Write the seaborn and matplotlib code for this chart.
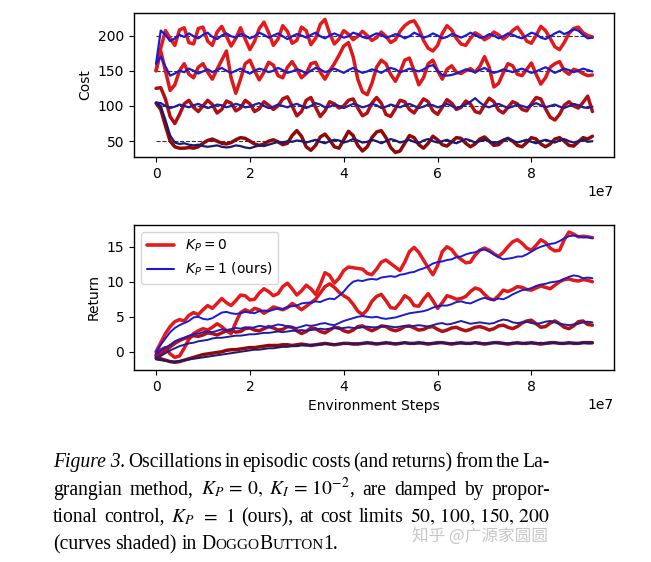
import numpy as np
import matplotlib
matplotlib.use("Agg")
import matplotlib.pyplot as plt
from matplotlib.lines import Line2D
import seaborn as sns

# environment steps, one sample every 1e6 steps
steps = np.arange(94) * 1e6
cost_limits = [200, 150, 100, 50]

# episodic cost, K_P = 0 (Lagrangian)
cost_kp0_200 = [150, 182, 207, 196, 186, 208, 211, 190, 188, 210,
                212, 192, 186, 205, 213, 199, 185, 196, 211, 195,
                180, 192, 210, 219, 204, 186, 195, 214, 206, 189,
                193, 212, 207, 187, 196, 216, 223, 203, 188, 195,
                207, 202, 194, 199, 206, 200, 193, 197, 205, 199,
                190, 194, 206, 214, 219, 221, 210, 193, 182, 178,
                186, 203, 214, 208, 196, 188, 186, 196, 204, 200,
                194, 198, 205, 201, 195, 200, 207, 212, 203, 192,
                189, 200, 213, 207, 196, 184, 180, 190, 203, 210,
                212, 204, 200, 198]
cost_kp0_150 = [150, 178, 150, 122, 130, 150, 160, 145, 140, 155,
                160, 148, 138, 152, 165, 178, 140, 118, 138, 160,
                165, 150, 137, 148, 162, 158, 143, 140, 155, 163,
                152, 140, 146, 160, 162, 148, 138, 150, 160, 172,
                185, 190, 170, 138, 120, 116, 132, 155, 165, 160,
                145, 135, 148, 165, 168, 150, 130, 140, 160, 165,
                150, 138, 152, 157, 148, 146, 150, 153, 148, 156,
                170, 155, 127, 132, 147, 160, 157, 145, 143, 152,
                161, 145, 131, 140, 155, 160, 163, 150, 145, 152,
                150, 146, 143, 144]
cost_kp0_100 = [125, 126, 110, 85, 75, 88, 103, 108, 98, 92,
                100, 108, 102, 90, 95, 107, 104, 93, 97, 108,
                103, 92, 96, 106, 101, 95, 100, 110, 113, 100,
                86, 92, 108, 112, 98, 85, 93, 106, 103, 97,
                100, 108, 110, 97, 86, 90, 104, 112, 104, 88,
                85, 96, 108, 106, 95, 90, 100, 110, 106, 93,
                88, 98, 109, 104, 95, 98, 107, 103, 92, 90,
                101, 111, 106, 94, 90, 98, 106, 103, 95, 93,
                103, 112, 110, 96, 84, 80, 88, 101, 106, 100,
                97, 105, 114, 92]
cost_kp0_50 = [104, 95, 72, 50, 42, 40, 40, 41, 40, 42,
               47, 51, 53, 50, 47, 46, 48, 52, 55, 54,
               50, 46, 44, 46, 50, 52, 49, 45, 47, 58,
               65, 57, 42, 37, 44, 56, 60, 52, 42, 40,
               52, 64, 58, 44, 36, 42, 55, 63, 65, 55,
               41, 34, 36, 47, 58, 55, 45, 40, 47, 57,
               52, 45, 43, 49, 55, 54, 47, 42, 46, 53,
               56, 50, 44, 45, 51, 54, 50, 44, 42, 48,
               55, 53, 46, 42, 46, 53, 55, 50, 44, 43,
               49, 55, 53, 57]

# episodic cost, K_P = 1 (ours)
cost_kp1_200 = [160, 207, 201, 192, 196, 201, 198, 203, 199, 196,
                201, 204, 198, 195, 200, 203, 199, 197, 202, 200,
                196, 199, 204, 201, 197, 200, 203, 199, 195, 199,
                202, 200, 197, 201, 204, 199, 196, 200, 203, 200,
                197, 199, 204, 202, 198, 196, 200, 203, 201, 197,
                199, 202, 200, 196, 199, 204, 201, 197, 199, 203,
                200, 196, 198, 202, 200, 197, 200, 204, 201, 197,
                198, 202, 200, 196, 199, 203, 201, 198, 196, 200,
                204, 202, 197, 195, 199, 203, 206, 202, 205, 209,
                207, 201, 196, 197]
cost_kp1_150 = [160, 170, 156, 143, 146, 150, 148, 153, 150, 146,
                149, 152, 148, 151, 154, 150, 147, 150, 153, 149,
                146, 150, 153, 151, 148, 150, 154, 151, 147, 149,
                152, 150, 146, 150, 154, 152, 148, 150, 153, 150,
                147, 151, 154, 150, 147, 149, 152, 150, 147, 151,
                154, 152, 148, 150, 153, 151, 149, 152, 156, 158,
                150, 144, 143, 144, 146, 149, 152, 150, 148, 151,
                154, 150, 147, 149, 152, 150, 148, 151, 153, 150,
                147, 149, 152, 155, 151, 147, 150, 153, 151, 148,
                150, 153, 151, 149]
cost_kp1_100 = [105, 104, 100, 97, 99, 102, 100, 98, 101, 103,
                100, 97, 99, 102, 101, 98, 100, 103, 101, 98,
                99, 102, 104, 100, 97, 99, 102, 100, 98, 101,
                103, 100, 97, 100, 104, 102, 98, 99, 102, 100,
                97, 100, 103, 101, 98, 100, 103, 101, 97, 99,
                102, 100, 98, 101, 103, 100, 97, 99, 102, 101,
                98, 100, 103, 100, 97, 99, 102, 106, 111, 105,
                100, 98, 101, 103, 100, 97, 99, 102, 100, 98,
                101, 104, 101, 98, 100, 102, 99, 97, 100, 103,
                101, 98, 97, 99]
cost_kp1_50 = [104, 100, 80, 58, 48, 46, 47, 45, 44, 45,
               43, 42, 43, 44, 42, 41, 42, 44, 43, 41,
               40, 42, 44, 43, 45, 47, 49, 48, 50, 49,
               51, 50, 48, 50, 52, 49, 47, 50, 52, 51,
               48, 50, 53, 51, 48, 49, 52, 50, 47, 50,
               53, 51, 48, 50, 52, 49, 47, 51, 53, 50,
               48, 50, 52, 49, 47, 50, 53, 51, 48, 50,
               52, 50, 47, 49, 52, 54, 51, 48, 50, 52,
               49, 47, 50, 52, 50, 48, 51, 53, 50, 48,
               50, 52, 49, 50]

# episodic return, K_P = 0
ret_kp0_200 = [0.0, 1.3, 2.6, 3.6, 4.3, 4.6, 4.4, 5.2, 5.6, 5.3,
               6.0, 6.6, 6.2, 6.9, 7.6, 7.0, 6.6, 7.3, 8.1, 8.0,
               7.4, 7.5, 8.4, 9.0, 8.6, 8.0, 8.3, 9.3, 9.8, 9.0,
               8.1, 8.7, 9.5, 9.0, 8.2, 9.6, 11.3, 10.9, 9.8, 10.5,
               11.6, 12.1, 12.0, 11.9, 11.8, 11.2, 11.0, 11.8, 12.8, 13.1,
               12.6, 12.1, 11.6, 12.8, 14.3, 14.9, 14.2, 13.1, 12.0, 11.0,
               12.3, 14.3, 15.0, 14.6, 13.7, 13.2, 12.7, 12.8, 13.8, 14.5,
               14.8, 14.5, 14.0, 13.6, 14.2, 15.0, 15.7, 16.0, 15.5, 14.8,
               14.5, 15.2, 16.0, 15.6, 14.8, 14.4, 14.5, 16.0, 17.1, 16.8,
               16.4, 16.5, 16.4, 16.3]
ret_kp0_150 = [-0.4, 0.3, 0.6, -0.3, -0.8, -0.6, 0.5, 1.8, 2.6, 3.0,
               3.3, 3.1, 3.5, 4.0, 3.6, 3.0, 2.6, 4.2, 5.6, 6.0,
               5.7, 6.2, 6.0, 5.5, 5.9, 6.4, 6.2, 6.0, 6.3, 6.9,
               6.5, 6.0, 6.5, 7.0, 7.5, 8.4, 9.3, 9.7, 9.2, 8.5,
               8.0, 7.6, 6.8, 5.8, 5.3, 6.0, 7.2, 7.9, 8.2, 7.3,
               6.3, 6.2, 7.0, 8.0, 7.6, 6.6, 6.5, 7.5, 8.3, 7.3,
               6.2, 7.0, 8.0, 7.8, 7.5, 7.6, 7.9, 8.6, 9.1, 8.9,
               8.2, 7.6, 7.4, 8.0, 8.8, 8.6, 8.9, 9.3, 9.2, 8.9,
               8.8, 9.1, 9.4, 9.2, 9.0, 9.5, 10.0, 10.3, 10.4, 10.2,
               10.1, 10.3, 10.2, 10.0]
ret_kp0_100 = [-0.6, -0.3, 0.2, 0.7, 1.2, 1.6, 1.9, 2.1, 2.3, 2.2,
               2.4, 2.7, 2.6, 2.4, 2.7, 3.0, 3.1, 2.8, 2.9, 3.3,
               3.4, 3.1, 3.0, 3.3, 3.6, 3.4, 3.1, 3.2, 3.6, 3.5,
               3.0, 2.6, 2.9, 3.4, 3.3, 2.9, 2.7, 3.1, 3.5, 3.4,
               3.0, 2.8, 3.1, 3.6, 3.7, 3.3, 3.0, 3.3, 3.7, 3.6,
               3.2, 3.0, 3.2, 3.6, 3.7, 3.4, 3.1, 3.2, 3.5, 3.6,
               3.2, 2.9, 3.1, 3.4, 3.5, 3.2, 3.0, 3.2, 3.5, 3.6,
               3.4, 3.1, 3.3, 3.7, 3.8, 3.5, 3.3, 3.6, 4.1, 4.4,
               4.5, 4.0, 3.5, 3.6, 4.1, 4.4, 4.0, 3.5, 3.3, 3.7,
               4.3, 4.4, 3.9, 3.8]
ret_kp0_50 = [-0.9, -1.0, -1.2, -1.4, -1.5, -1.4, -1.2, -1.0, -0.8, -0.6,
              -0.4, -0.3, -0.2, -0.1, 0.0, 0.2, 0.3, 0.3, 0.4, 0.5,
              0.6, 0.6, 0.7, 0.8, 0.9, 0.9, 0.9, 1.0, 1.0, 0.9,
              1.0, 1.1, 1.0, 0.9, 1.0, 1.1, 1.2, 1.1, 1.0, 1.1,
              1.2, 1.2, 1.1, 1.1, 1.2, 1.3, 1.2, 1.1, 1.2, 1.3,
              1.2, 1.1, 1.2, 1.3, 1.2, 1.2, 1.3, 1.2, 1.1, 1.2,
              1.3, 1.3, 1.2, 1.1, 1.2, 1.3, 1.2, 1.2, 1.3, 1.2,
              1.1, 1.2, 1.3, 1.3, 1.2, 1.1, 1.2, 1.3, 1.2, 1.2,
              1.3, 1.2, 1.1, 1.2, 1.3, 1.3, 1.2, 1.2, 1.3, 1.2,
              1.2, 1.3, 1.3, 1.3]

# episodic return, K_P = 1
ret_kp1_200 = [0.0, 1.0, 1.9, 2.8, 3.4, 3.8, 4.1, 4.4, 4.9, 5.0,
               4.7, 4.6, 4.8, 5.2, 5.6, 5.7, 5.5, 5.4, 5.5, 5.7,
               5.6, 5.5, 5.8, 5.9, 5.8, 6.0, 6.2, 6.1, 6.4, 6.5,
               6.6, 6.9, 7.0, 7.0, 7.2, 7.1, 7.4, 7.6, 7.5, 8.0,
               8.6, 9.4, 10.0, 10.2, 10.1, 10.3, 10.4, 10.3, 10.6, 10.7,
               10.8, 10.7, 11.0, 11.1, 11.3, 11.4, 11.7, 11.9, 12.2, 12.6,
               12.8, 12.9, 13.1, 13.2, 13.5, 13.6, 13.9, 14.1, 14.2, 14.5,
               14.6, 14.3, 13.9, 13.5, 13.2, 13.3, 13.4, 13.6, 13.6, 13.9,
               14.3, 14.7, 15.0, 15.2, 15.4, 15.5, 15.8, 16.2, 16.5, 16.6,
               16.5, 16.3, 16.4, 16.2]
ret_kp1_150 = [-0.3, 0.2, 0.6, 1.0, 1.5, 1.8, 2.0, 2.3, 2.5, 2.6,
               2.8, 2.9, 2.8, 3.0, 3.2, 3.1, 3.2, 3.4, 3.3, 3.5,
               3.4, 3.5, 3.7, 3.6, 3.5, 3.7, 3.9, 3.8, 3.6, 3.5,
               3.4, 3.6, 3.8, 3.7, 3.8, 4.0, 4.1, 3.9, 3.8, 4.1,
               4.4, 4.6, 4.8, 5.0, 5.1, 5.0, 4.9, 5.0, 4.8, 4.7,
               4.8, 4.9, 5.1, 5.3, 5.5, 5.6, 5.7, 5.8, 6.0, 6.3,
               6.5, 6.6, 6.6, 6.8, 7.1, 7.2, 7.0, 6.9, 7.2, 7.5,
               7.7, 7.5, 7.4, 7.6, 7.5, 7.8, 8.2, 8.5, 8.8, 8.9,
               9.1, 9.4, 9.6, 9.7, 9.9, 10.0, 10.1, 10.4, 10.7, 10.9,
               10.8, 10.5, 10.6, 10.5]
ret_kp1_100 = [-0.8, -0.6, -0.2, 0.2, 0.5, 0.8, 1.0, 1.2, 1.3, 1.5,
               1.6, 1.7, 1.9, 2.0, 2.0, 2.1, 2.2, 2.3, 2.3, 2.4,
               2.5, 2.5, 2.6, 2.7, 2.7, 2.8, 2.9, 2.8, 2.9, 3.0,
               3.0, 3.1, 3.0, 3.1, 3.2, 3.3, 3.2, 3.3, 3.4, 3.3,
               3.4, 3.5, 3.4, 3.4, 3.5, 3.6, 3.5, 3.5, 3.6, 3.7,
               3.6, 3.5, 3.6, 3.7, 3.6, 3.7, 3.8, 3.7, 3.6, 3.8,
               4.0, 4.1, 3.9, 4.0, 4.2, 4.4, 4.2, 4.0, 4.1, 4.2,
               4.1, 4.0, 4.1, 4.4, 4.6, 4.5, 4.2, 4.1, 4.2, 4.3,
               4.1, 4.0, 4.1, 4.3, 4.4, 4.2, 4.0, 3.9, 3.8, 3.9,
               4.0, 4.2, 4.3, 4.2]
ret_kp1_50 = [-1.1, -1.2, -1.3, -1.4, -1.4, -1.3, -1.2, -1.1, -1.0, -0.9,
              -0.8, -0.7, -0.6, -0.5, -0.4, -0.3, -0.2, -0.1, 0.0, 0.1,
              0.2, 0.3, 0.3, 0.4, 0.5, 0.5, 0.6, 0.7, 0.7, 0.8,
              0.8, 0.9, 0.9, 1.0, 1.0, 1.0, 1.1, 1.1, 1.1, 1.1,
              1.2, 1.1, 1.2, 1.2, 1.2, 1.2, 1.3, 1.2, 1.2, 1.2,
              1.3, 1.2, 1.2, 1.3, 1.2, 1.2, 1.2, 1.3, 1.2, 1.2,
              1.2, 1.3, 1.2, 1.2, 1.3, 1.2, 1.2, 1.2, 1.3, 1.3,
              1.2, 1.2, 1.3, 1.2, 1.2, 1.2, 1.3, 1.2, 1.2, 1.3,
              1.2, 1.2, 1.3, 1.2, 1.2, 1.3, 1.2, 1.2, 1.2, 1.3,
              1.2, 1.3, 1.2, 1.2]

cost_kp0 = [cost_kp0_200, cost_kp0_150, cost_kp0_100, cost_kp0_50]
cost_kp1 = [cost_kp1_200, cost_kp1_150, cost_kp1_100, cost_kp1_50]
ret_kp0 = [ret_kp0_200, ret_kp0_150, ret_kp0_100, ret_kp0_50]
ret_kp1 = [ret_kp1_200, ret_kp1_150, ret_kp1_100, ret_kp1_50]

# shades per cost limit (200 -> 50)
reds = ["#e41a1c", "#dc1818", "#b01014", "#8e0a0a"]
blues = ["#1a1ad8", "#1c1cc8", "#1e1e9e", "#1a1a72"]

sns.set_style("ticks")
plt.rcParams["font.family"] = ["DejaVu Sans"]
plt.rcParams.update({
    "axes.edgecolor": "black",
    "axes.labelcolor": "black",
    "text.color": "black",
    "xtick.color": "black",
    "ytick.color": "black",
    "xtick.labelsize": 10,
    "ytick.labelsize": 10,
    "axes.labelsize": 10,
    "axes.linewidth": 1.0,
})

W, H = 651, 562
fig = plt.figure(figsize=(W / 100, H / 100), dpi=100)
ax1 = fig.add_axes([134 / W, 1 - 157 / H, 480 / W, 144 / H])
ax2 = fig.add_axes([134 / W, 1 - 370 / H, 480 / W, 145 / H])

# top: costs with dashed cost limits
ax1.hlines(cost_limits, 0, steps[-1], colors="0.2", linestyles="--", linewidth=0.8, zorder=1)
for vals, col in zip(cost_kp0, reds):
    sns.lineplot(x=steps, y=vals, ax=ax1, color=col, linewidth=2.5)
for vals, col in zip(cost_kp1, blues):
    sns.lineplot(x=steps, y=vals, ax=ax1, color=col, linewidth=1.6)
ax1.set_ylabel("Cost")
ax1.set_yticks([50, 100, 150, 200])
ax1.set_ylim(27.5, 232)

# bottom: returns
for vals, col in zip(ret_kp0, reds):
    sns.lineplot(x=steps, y=vals, ax=ax2, color=col, linewidth=2.5)
for vals, col in zip(ret_kp1, blues):
    sns.lineplot(x=steps, y=vals, ax=ax2, color=col, linewidth=1.4)
ax2.set_ylabel("Return")
ax2.set_xlabel("Environment Steps")
ax2.set_yticks([0, 5, 10, 15])
ax2.set_ylim(-2.6, 18.1)

for ax in (ax1, ax2):
    ax.set_xticks([0, 2e7, 4e7, 6e7, 8e7])
    ax.set_xlim(-0.47e7, 9.76e7)
    for s in ax.spines.values():
        s.set_visible(True)

handles = [Line2D([], [], color=reds[0], linewidth=2.6),
           Line2D([], [], color=blues[0], linewidth=1.5)]
ax2.legend(handles, ["$K_P = 0$", "$K_P = 1$ (ours)"], loc="upper left",
           fontsize=10, frameon=True, framealpha=0.8, edgecolor="0.8",
           borderaxespad=0.5)

# caption, justified line by line
renderer = fig.canvas.get_renderer()
serif = dict(family="Liberation Serif", fontsize=14.1, math_fontfamily="stix")
ital = dict(serif, style="italic")
small = dict(serif, fontsize=11.0)

caption_lines = [
    [("Figure 3.", ital), ("Oscillations", serif), ("in", serif), ("episodic", serif),
     ("costs", serif), ("(and", serif), ("returns)", serif), ("from", serif),
     ("the", serif), ("La-", serif)],
    [("grangian", serif), ("method,", serif),
     (r"$K_P\,=\,0,\ K_I\,=\,10^{-2}$,", serif),
     ("are", serif), ("damped", serif), ("by", serif), ("propor-", serif)],
    [("tional", serif), ("control,", serif), ("$K_P$", serif), ("$=$", serif),
     ("$1$", serif), ("(ours),", serif), ("at", serif), ("cost", serif),
     ("limits", serif), (r"$50,\,100,\,150,\,200$", serif)],
]
baselines = [467, 495, 522]
x_left, x_right = 53, 550

for tokens, yb in zip(caption_lines, baselines):
    texts = [fig.text(0, 1 - yb / H, s, ha="left", va="baseline", **kw) for s, kw in tokens]
    widths = [t.get_window_extent(renderer).width for t in texts]
    gap = (x_right - x_left - sum(widths)) / (len(texts) - 1)
    x = x_left
    for t, w in zip(texts, widths):
        t.set_x(x / W)
        x += w + gap

# last line, not justified, with small caps
last = [("(curves", serif, True), ("shaded)", serif, True), ("in", serif, True),
        ("D", serif, True), ("OGGO", small, False), ("B", serif, False),
        ("UTTON", small, False), ("1.", serif, False)]
texts = [fig.text(0, 1 - 549 / H, s, ha="left", va="baseline", **kw) for s, kw, _ in last]
widths = [t.get_window_extent(renderer).width for t in texts]
x = x_left
for i, (t, w) in enumerate(zip(texts, widths)):
    if i > 0 and last[i][2]:
        x += 4.5
    t.set_x(x / W)
    x += w

fig.text(412 / W, 1 - 536 / H, "知乎 @广源家圆圆", fontsize=12, color="#c8c8c8",
         family=["Noto Sans CJK SC", "DejaVu Sans"], va="center", ha="left")

fig.savefig("out.png", dpi=100)
